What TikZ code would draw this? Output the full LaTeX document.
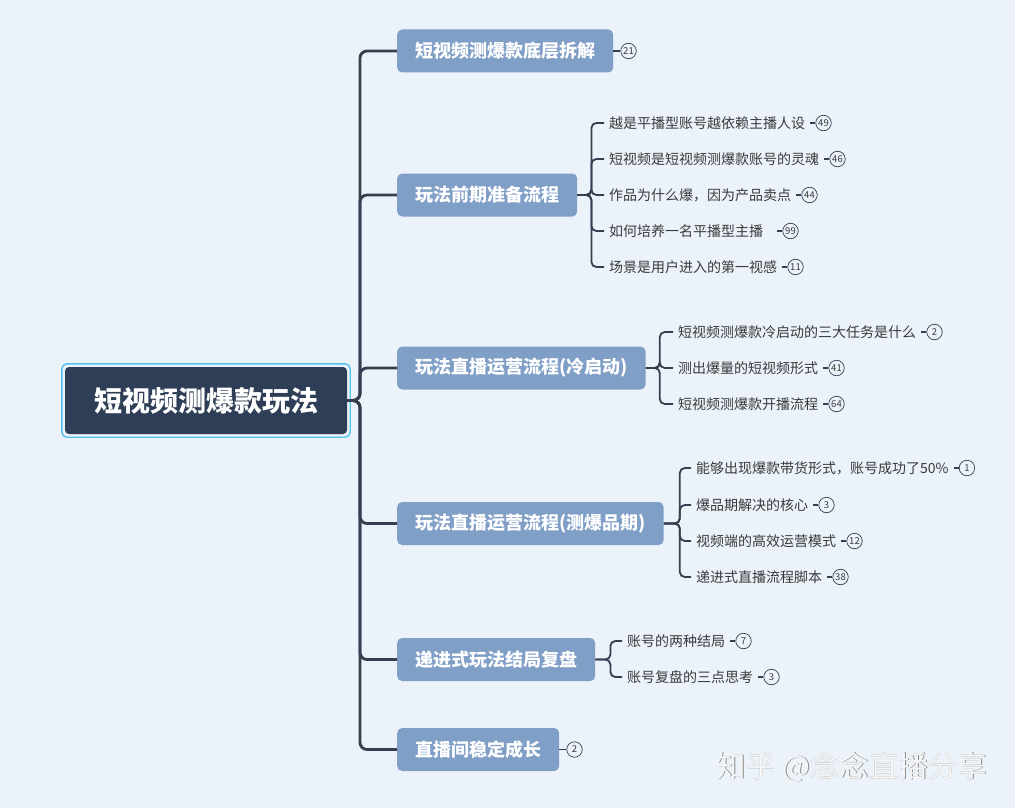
\documentclass[tikz,border=0pt]{standalone}
\usepackage{fontspec}
\setmainfont{Noto Sans CJK SC}
\usetikzlibrary{positioning}

\definecolor{bg}{HTML}{EBF2FA}
\definecolor{nodeblue}{HTML}{809FC7}
\definecolor{rootdark}{HTML}{2E3E56}
\definecolor{ringcyan}{HTML}{55C1EE}
\definecolor{linedark}{HTML}{343F50}
\definecolor{itemgray}{HTML}{3A3A3A}

\tikzset{
  topic/.style = {anchor=west, rounded corners=5pt, fill=nodeblue, text=white,
    font=\fontsize{18}{20}\selectfont\bfseries, inner xsep=18pt, inner ysep=0pt,
    minimum height=43pt},
  item/.style = {anchor=west, text=itemgray, font=\fontsize{14}{16}\selectfont,
    inner xsep=5pt, inner ysep=2pt},
  badge/.style = {circle, draw=linedark, line width=0.7pt, inner sep=0pt,
    minimum size=15.5pt, text=itemgray, font=\fontsize{9.5}{10}\selectfont},
  trunk/.style = {draw=linedark, line width=2.8pt, rounded corners=7pt},
  branch/.style = {draw=linedark, line width=1.8pt, rounded corners=5pt},
  twig/.style = {draw=linedark, line width=1.3pt}
}

\begin{document}
\begin{tikzpicture}[x=1pt, y=-1pt]

    % Background
    \fill[bg] (0,0) rectangle (1015,808);
    \useasboundingbox (0,0) rectangle (1015,808);

    % Root
    \node[rounded corners=4pt, fill=rootdark, text=white, minimum width=282pt,
          minimum height=67pt, font=\fontsize{28}{30}\selectfont\bfseries] (root) at (206,400.5) {短视频测爆款玩法};
    \draw[ringcyan, line width=1.4pt, rounded corners=5pt]
        ([shift={(-3,-3)}]root.north west) rectangle ([shift={(3,3)}]root.south east);
    \coordinate (hub) at (360,400.5);

    % Topics
    \node[topic] (base) at (397,51) {短视频测爆款底层拆解};
    \node[topic] (prep) at (397,195) {玩法前期准备流程};
    \node[topic] (cold) at (397,368) {玩法直播运营流程(冷启动)};
    \node[topic] (test) at (397,523.5) {玩法直播运营流程(测爆品期)};
    \node[topic] (review) at (397,659.5) {递进式玩法结局复盘};
    \node[topic] (grow) at (397,749.5) {直播间稳定成长};

    % Trunk
    \foreach \t in {base,prep,cold,test,review,grow}
        \draw[trunk] (root.east) -- (hub) |- (\t.west);

    % Topic badges
    \node[badge, right=7pt of base] (basen) {21};
    \draw[twig] (base.east) -- (basen.west);
    \node[badge, right=7pt of grow] (grown) {2};
    \draw[twig] (grow.east) -- (grown.west);

    % Preparation
    \foreach \txt/\num/\y [count=\i] in {{越是平播型账号越依赖主播人设}/49/123,
            {短视频是短视频测爆款账号的灵魂}/46/159, {作品为什么爆，因为产品卖点}/44/195,
            {如何培养一名平播型主播\kern9pt\null}/99/231, {场景是用户进入的第一视感}/11/267}{
        \node[item] (prep\i) at (604,\y) {\txt};
        \node[badge, right=5pt of prep\i] (prepn\i) {\num};
        \draw[twig] (prep\i.east) -- (prepn\i.west);
        \draw[branch] (prep.east) -- ++(14,0) |- (prep\i.west);
    }

    % Cold start
    \foreach \txt/\num/\y [count=\i] in {{短视频测爆款冷启动的三大任务是什么}/2/332,
            {测出爆量的短视频形式}/41/368, {短视频测爆款开播流程}/64/404}{
        \node[item] (cold\i) at (673,\y) {\txt};
        \node[badge, right=5pt of cold\i] (coldn\i) {\num};
        \draw[twig] (cold\i.east) -- (coldn\i.west);
        \draw[branch] (cold.east) -- ++(14,0) |- (cold\i.west);
    }

    % Test phase
    \foreach \txt/\num/\y [count=\i] in {{能够出现爆款带货形式，账号成功了50\%}/1/468,
            {爆品期解决的核心}/3/505, {视频端的高效运营模式}/12/541, {递进式直播流程脚本}/38/577}{
        \node[item] (test\i) at (691,\y) {\txt};
        \node[badge, right=5pt of test\i] (testn\i) {\num};
        \draw[twig] (test\i.east) -- (testn\i.west);
        \draw[branch] (test.east) -- ++(16,0) |- (test\i.west);
    }

    % Review
    \foreach \txt/\num/\y [count=\i] in {{账号的两种结局}/7/641, {账号复盘的三点思考}/3/677}{
        \node[item] (review\i) at (622,\y) {\txt};
        \node[badge, right=5pt of review\i] (reviewn\i) {\num};
        \draw[twig] (review\i.east) -- (reviewn\i.west);
        \draw[branch] (review.east) -- ++(15,0) |- (review\i.west);
    }

    % Watermark
    \node[anchor=west, text=black!45, font=\fontsize{29.5}{32}\selectfont] at (713.9,767.9) {知乎 @念念直播分享};
    \node[anchor=west, text=white!96!black, font=\fontsize{29.5}{32}\selectfont] (mark) at (713,767) {知乎 @念念直播分享};
\end{tikzpicture}
\end{document}
